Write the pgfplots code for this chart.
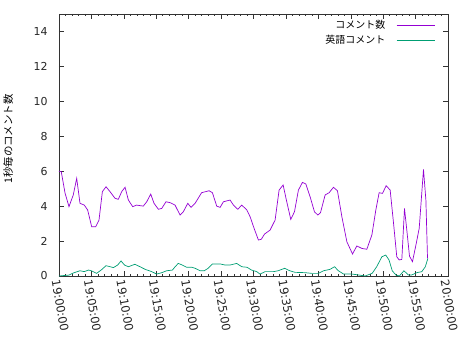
\documentclass[border=0pt]{standalone}
\usepackage{pgfplots}
\pgfplotsset{compat=1.18}
\usepackage{fontspec}
\setmainfont{DejaVu Sans}
\newfontfamily\jp{Noto Sans CJK JP}
\definecolor{gpurple}{HTML}{9400D3}
\definecolor{ggreen}{HTML}{009E73}
\begin{document}
\begin{tikzpicture}
\useasboundingbox (-59bp,-79bp) rectangle (415bp,276bp);
\begin{axis}[
  at={(0,0)}, anchor=south west,
  scale only axis, width=389bp, height=262bp,
  xmin=0, xmax=60, ymin=0, ymax=15,
  xtick={0,5,...,60},
  xticklabels={19:00:00,19:05:00,19:10:00,19:15:00,19:20:00,19:25:00,19:30:00,19:35:00,19:40:00,19:45:00,19:50:00,19:55:00,20:00:00},
  minor x tick num=4,
  ytick={0,2,...,14},
  tick align=inside, tick pos=both,
  major tick length=5bp, minor tick length=2.5bp,
  axis line style={line width=0.6pt, black!80},
  every tick/.style={black!80, line width=0.5pt},
  /pgf/number format/assume math mode=true,
  ticklabel style={font=\fontsize{11}{12}\selectfont, text=black!85},
  xticklabel style={rotate=-80, anchor=west, yshift=-4bp, font=\fontsize{11.6}{12}\selectfont},
  yticklabel style={xshift=-8bp},
  ylabel={\jp 1秒毎のコメント数},
  ylabel style={at={(axis description cs:-0.131,0.523)}, anchor=center, font=\fontsize{10.5}{12}\selectfont},
  legend plot pos=right,
  legend cell align=right,
  legend image code/.code={\path (0bp,0bp); \draw[#1] (9bp,0bp) -- (47bp,0bp);},
  legend style={draw=none, fill=none, at={(axis description cs:0.967,0.985)}, anchor=north east, inner sep=0pt, font=\jp\fontsize{10}{12}\selectfont, row sep=1.5bp},
]
\addplot[color=gpurple, line width=0.7pt] coordinates {
(0,6.0) (0.35,5.97) (0.93,4.75) (1.54,3.97) (2.2,4.64) (2.73,5.59) (3.24,4.16) (3.9,4.06) (4.42,3.78) (5.04,2.82) (5.66,2.82) (6.17,3.2) (6.69,4.83) (7.25,5.11) (7.87,4.83) (8.64,4.45) (9.15,4.39) (9.67,4.83) (10.19,5.08) (10.7,4.35) (11.37,3.97) (11.99,4.06) (13.0,4.0) (13.53,4.25) (14.15,4.69) (14.66,4.16) (15.33,3.82) (15.85,3.87) (16.5,4.25) (17.13,4.2) (17.9,4.06) (18.67,3.49) (19.18,3.68) (19.86,4.16) (20.37,3.93) (20.99,4.16) (22.0,4.77) (23.15,4.88) (23.66,4.77) (24.33,4.0) (24.85,3.93) (25.36,4.25) (26.39,4.35) (26.9,4.06) (27.58,3.82) (28.19,4.06) (28.97,3.78) (29.47,3.4) (30.09,2.73) (30.76,2.06) (31.2,2.1) (31.7,2.4) (32.56,2.63) (33.33,3.2) (33.95,4.92) (34.57,5.21) (35.13,4.25) (35.75,3.24) (36.32,3.68) (36.93,4.92) (37.55,5.36) (38.07,5.27) (38.73,4.54) (39.4,3.68) (39.92,3.49) (40.33,3.62) (41.05,4.64) (41.67,4.77) (42.33,5.08) (42.95,4.88) (43.63,3.4) (44.4,1.96) (45.27,1.26) (45.94,1.72) (46.71,1.58) (47.48,1.53) (48.26,2.35) (48.87,3.78) (49.38,4.77) (49.9,4.73) (50.46,5.17) (51.08,4.92) (51.6,3.02) (52.1,1.1) (52.47,0.92) (52.88,0.95) (53.29,3.87) (53.7,2.44) (54.06,1.14) (54.52,0.82) (55.05,1.77) (55.56,2.73) (56.22,6.1) (56.59,4.35) (56.84,1.01)
};
\addlegendentry{コメント数}
\addplot[color=ggreen, line width=0.7pt] coordinates {
(0,0) (1.5,0.05) (2.2,0.17) (3.24,0.3) (3.9,0.25) (4.53,0.34) (5.0,0.3) (5.8,0.15) (6.5,0.34) (7.25,0.59) (7.9,0.53) (8.4,0.48) (9.05,0.63) (9.57,0.86) (10.1,0.63) (10.7,0.53) (11.7,0.67) (12.5,0.53) (13.3,0.38) (14.3,0.25) (15.07,0.11) (15.85,0.19) (16.6,0.3) (17.5,0.34) (17.9,0.53) (18.4,0.72) (19.0,0.63) (19.7,0.5) (20.5,0.5) (21.0,0.44) (21.76,0.3) (22.4,0.3) (23.0,0.44) (23.66,0.69) (24.85,0.69) (25.6,0.63) (26.4,0.63) (27.4,0.72) (28.2,0.53) (29.0,0.5) (29.7,0.34) (30.5,0.25) (31.0,0.11) (31.8,0.25) (33.1,0.25) (33.8,0.3) (34.8,0.44) (35.6,0.3) (36.4,0.21) (38.0,0.19) (39.0,0.15) (40.0,0.15) (40.8,0.3) (41.8,0.38) (42.5,0.53) (43.1,0.3) (43.9,0.11) (45.2,0.11) (46.2,0.06) (47.2,0.0) (48.3,0.15) (49.0,0.53) (49.8,1.1) (50.4,1.2) (50.9,0.92) (51.4,0.3) (51.96,0.06) (52.5,0.0) (53.2,0.3) (53.9,0.06) (54.4,0.06) (55.2,0.19) (55.96,0.25) (56.5,0.53) (56.9,1.01)
};
\addlegendentry{英語コメント}
\end{axis}
\end{tikzpicture}
\end{document}
